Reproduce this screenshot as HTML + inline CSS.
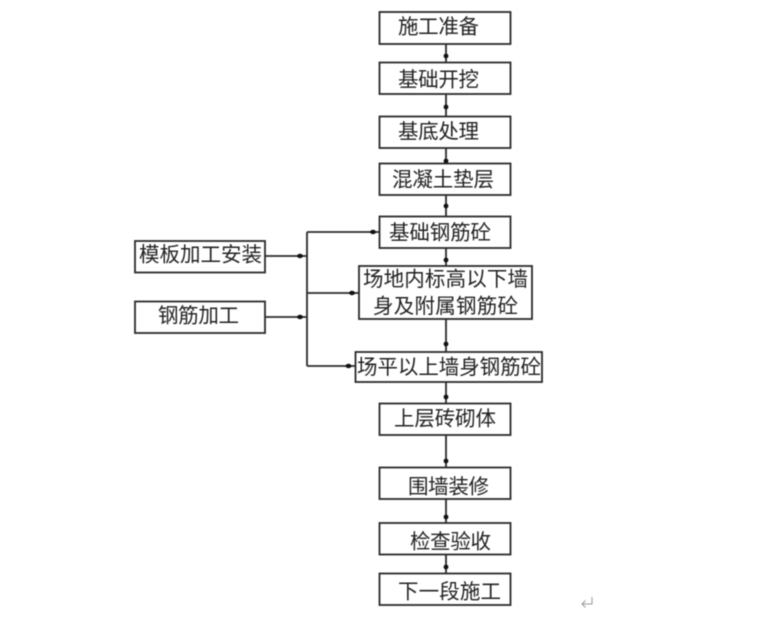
<!DOCTYPE html>
<html><head><meta charset="utf-8"><style>
html,body{margin:0;padding:0;background:#fff;width:760px;height:619px;overflow:hidden}
svg{display:block;filter:blur(.4px)}
text{font-family:"Liberation Sans","WenQuanYi Zen Hei","Noto Sans CJK SC",sans-serif;font-size:20.500px;fill:#222}
rect{fill:#fff;stroke:#2a2a2a;stroke-width:1.800}
line{stroke:#2a2a2a;stroke-width:1.800}
circle,ellipse{fill:#111}
</style></head><body>
<svg width="760" height="619" viewBox="0 0 760 619" xmlns="http://www.w3.org/2000/svg">
<line x1="446" y1="44" x2="446" y2="573"/>
<line x1="307" y1="232" x2="307" y2="366"/>
<line x1="265" y1="256" x2="307" y2="256"/>
<line x1="265" y1="317" x2="307" y2="317"/>
<line x1="307" y1="232" x2="379" y2="232"/>
<line x1="307" y1="293" x2="359" y2="293"/>
<line x1="307" y1="366" x2="355" y2="366"/>
<rect x="379.5" y="12" width="131" height="32"/>
<rect x="379.5" y="62.500" width="131" height="31.500"/>
<rect x="379.5" y="116.500" width="131" height="31.500"/>
<rect x="379.5" y="163.500" width="131" height="31.500"/>
<rect x="379.5" y="216.500" width="131" height="31.500"/>
<rect x="359" y="266" width="173" height="53"/>
<rect x="355.500" y="352" width="186.500" height="30"/>
<rect x="379.5" y="403.500" width="131" height="31.500"/>
<rect x="379.5" y="467.500" width="131" height="31.500"/>
<rect x="379.5" y="523" width="131" height="31.500"/>
<rect x="379.5" y="573.500" width="131" height="31.500"/>
<rect x="135" y="241" width="130" height="31.500"/>
<rect x="135" y="301.500" width="130" height="31.500"/>
<circle cx="446" cy="56" r="2.400"/><circle cx="446" cy="107" r="2.400"/><circle cx="446" cy="161" r="2.400"/><circle cx="446" cy="206" r="2.400"/><circle cx="446" cy="260" r="2.400"/><circle cx="446" cy="344" r="2.400"/><circle cx="446" cy="397" r="2.400"/><circle cx="446" cy="461" r="2.400"/><circle cx="446" cy="517" r="2.400"/><circle cx="446" cy="567" r="2.400"/>
<ellipse cx="300" cy="256" rx="3" ry="2.200"/><ellipse cx="300" cy="317" rx="3" ry="2.200"/><ellipse cx="373" cy="232" rx="3" ry="2.200"/><ellipse cx="352" cy="293" rx="3" ry="2.200"/><ellipse cx="348.500" cy="366" rx="3" ry="2.200"/>
<text x="398" y="33.500" textLength="81">施工准备</text>
<text x="398" y="86.500" textLength="81">基础开挖</text>
<text x="398" y="138.500" textLength="81">基底处理</text>
<text x="392" y="186.500" textLength="102">混凝土垫层</text>
<text x="389" y="239.500" textLength="102">基础钢筋砼</text>
<text x="363" y="286" textLength="165">场地内标高以下墙</text>
<text x="373" y="313" textLength="145">身及附属钢筋砼</text>
<text x="357" y="374" textLength="184">场平以上墙身钢筋砼</text>
<text x="394" y="425.500" textLength="102">上层砖砌体</text>
<text x="408" y="493.500" textLength="81">围墙装修</text>
<text x="410" y="548.500" textLength="81">检查验收</text>
<text x="398" y="598.500" textLength="103">下一段施工</text>
<text x="139" y="261.500" textLength="123">模板加工安装</text>
<text x="158" y="322.500" textLength="81">钢筋加工</text>
<path d="M592 597V604H582M585.500 600.500L582 604L585.500 607.500" fill="none" stroke="#999" stroke-width="1"/>
</svg>
</body></html>
